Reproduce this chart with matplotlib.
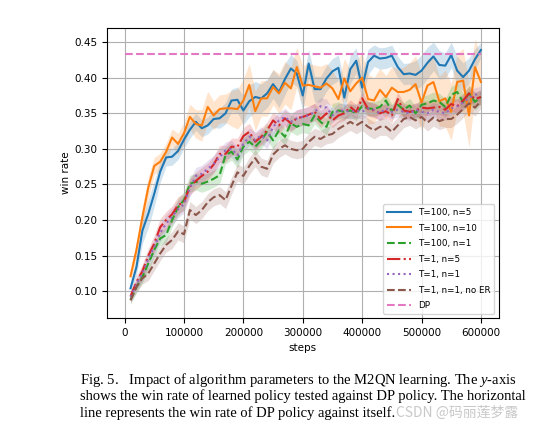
import numpy as np
import matplotlib
matplotlib.use('Agg')
import matplotlib.pyplot as plt
from matplotlib.ticker import FormatStrFormatter

# --------------------------------------------------------------------------------------
# Data

steps = np.arange(10000, 600001, 10000)

t100_n5 = [0.104, 0.134, 0.185, 0.209, 0.237, 0.268, 0.288, 0.289, 0.297, 0.313,
           0.327, 0.338, 0.329, 0.333, 0.342, 0.343, 0.350, 0.368, 0.369, 0.354,
           0.367, 0.373, 0.371, 0.378, 0.391, 0.380, 0.398, 0.413, 0.406, 0.375,
           0.420, 0.384, 0.384, 0.399, 0.409, 0.414, 0.372, 0.412, 0.424, 0.386,
           0.422, 0.431, 0.427, 0.428, 0.431, 0.415, 0.405, 0.406, 0.404, 0.410,
           0.421, 0.430, 0.418, 0.417, 0.432, 0.410, 0.401, 0.410, 0.426, 0.439]
t100_n5_sd = [0.006, 0.012, 0.018, 0.020, 0.018, 0.015, 0.012, 0.012, 0.012, 0.012,
              0.012, 0.012, 0.012, 0.012, 0.012, 0.014, 0.015, 0.016, 0.018, 0.020,
              0.022, 0.022, 0.020, 0.020, 0.020, 0.022, 0.022, 0.020, 0.018, 0.022,
              0.020, 0.018, 0.018, 0.018, 0.018, 0.018, 0.020, 0.020, 0.018, 0.020,
              0.018, 0.015, 0.015, 0.015, 0.015, 0.015, 0.015, 0.015, 0.020, 0.022,
              0.022, 0.020, 0.020, 0.018, 0.018, 0.020, 0.020, 0.018, 0.015, 0.010]

t100_n10 = [0.121, 0.158, 0.204, 0.246, 0.276, 0.282, 0.296, 0.316, 0.307, 0.322,
            0.345, 0.335, 0.333, 0.359, 0.347, 0.356, 0.357, 0.357, 0.356, 0.368,
            0.390, 0.353, 0.371, 0.371, 0.387, 0.378, 0.393, 0.385, 0.415, 0.389,
            0.390, 0.388, 0.386, 0.392, 0.385, 0.370, 0.399, 0.381, 0.392, 0.400,
            0.370, 0.368, 0.383, 0.373, 0.386, 0.380, 0.380, 0.383, 0.391, 0.365,
            0.389, 0.394, 0.367, 0.371, 0.352, 0.394, 0.396, 0.347, 0.415, 0.394]
t100_n10_sd = [0.008, 0.012, 0.015, 0.015, 0.012, 0.012, 0.012, 0.012, 0.015, 0.015,
               0.018, 0.020, 0.022, 0.022, 0.020, 0.020, 0.020, 0.025, 0.028, 0.030,
               0.030, 0.028, 0.025, 0.025, 0.025, 0.028, 0.030, 0.030, 0.028, 0.028,
               0.030, 0.030, 0.030, 0.028, 0.025, 0.025, 0.028, 0.030, 0.032, 0.035,
               0.035, 0.032, 0.030, 0.030, 0.030, 0.032, 0.035, 0.038, 0.040, 0.040,
               0.038, 0.035, 0.035, 0.040, 0.040, 0.040, 0.045, 0.045, 0.040, 0.035]

t100_n1 = [0.088, 0.106, 0.120, 0.139, 0.158, 0.174, 0.179, 0.200, 0.218, 0.228,
           0.251, 0.254, 0.251, 0.254, 0.258, 0.263, 0.291, 0.296, 0.285, 0.303,
           0.310, 0.303, 0.312, 0.324, 0.312, 0.326, 0.317, 0.336, 0.331, 0.335,
           0.333, 0.347, 0.338, 0.331, 0.352, 0.354, 0.352, 0.354, 0.350, 0.360,
           0.357, 0.356, 0.359, 0.368, 0.353, 0.362, 0.355, 0.361, 0.350, 0.362,
           0.364, 0.368, 0.366, 0.359, 0.376, 0.380, 0.366, 0.378, 0.366, 0.373]
t100_n1_sd = [0.005, 0.008, 0.008, 0.010, 0.010, 0.010, 0.010, 0.010, 0.012, 0.012,
              0.012, 0.012, 0.012, 0.012, 0.012, 0.012, 0.012, 0.012, 0.012, 0.012,
              0.012, 0.012, 0.012, 0.012, 0.012, 0.012, 0.012, 0.012, 0.012, 0.012,
              0.012, 0.012, 0.012, 0.012, 0.012, 0.012, 0.010, 0.010, 0.010, 0.010,
              0.010, 0.010, 0.010, 0.010, 0.010, 0.010, 0.010, 0.010, 0.010, 0.012,
              0.012, 0.012, 0.012, 0.012, 0.012, 0.012, 0.012, 0.012, 0.012, 0.010]

t1_n5 = [0.093, 0.113, 0.128, 0.150, 0.167, 0.190, 0.200, 0.208, 0.221, 0.225,
         0.247, 0.255, 0.262, 0.268, 0.278, 0.293, 0.293, 0.303, 0.303, 0.318,
         0.324, 0.310, 0.317, 0.326, 0.340, 0.333, 0.343, 0.336, 0.343, 0.345,
         0.348, 0.352, 0.342, 0.350, 0.340, 0.347, 0.350, 0.359, 0.352, 0.371,
         0.356, 0.354, 0.350, 0.353, 0.347, 0.370, 0.354, 0.352, 0.354, 0.358,
         0.357, 0.358, 0.359, 0.355, 0.363, 0.360, 0.368, 0.378, 0.370, 0.373]
t1_n5_sd = [0.005, 0.008, 0.010, 0.010, 0.012, 0.012, 0.012, 0.012, 0.012, 0.012,
            0.012, 0.012, 0.012, 0.012, 0.012, 0.012, 0.012, 0.012, 0.012, 0.012,
            0.012, 0.012, 0.012, 0.012, 0.012, 0.012, 0.012, 0.012, 0.012, 0.012,
            0.012, 0.012, 0.012, 0.012, 0.010, 0.010, 0.010, 0.010, 0.010, 0.010,
            0.010, 0.010, 0.010, 0.010, 0.010, 0.010, 0.010, 0.010, 0.010, 0.010,
            0.010, 0.010, 0.010, 0.010, 0.010, 0.010, 0.010, 0.010, 0.010, 0.010]

t1_n1 = [0.092, 0.110, 0.125, 0.145, 0.162, 0.182, 0.195, 0.205, 0.215, 0.222,
         0.245, 0.262, 0.265, 0.272, 0.279, 0.288, 0.298, 0.300, 0.291, 0.307,
         0.317, 0.312, 0.319, 0.312, 0.331, 0.340, 0.345, 0.338, 0.343, 0.345,
         0.347, 0.352, 0.360, 0.358, 0.347, 0.354, 0.354, 0.352, 0.354, 0.352,
         0.357, 0.355, 0.350, 0.357, 0.352, 0.355, 0.352, 0.350, 0.355, 0.352,
         0.350, 0.355, 0.352, 0.350, 0.357, 0.360, 0.365, 0.372, 0.376, 0.378]
t1_n1_sd = [0.005, 0.008, 0.010, 0.010, 0.012, 0.012, 0.012, 0.012, 0.012, 0.012,
            0.012, 0.012, 0.012, 0.012, 0.012, 0.012, 0.012, 0.012, 0.012, 0.012,
            0.012, 0.012, 0.012, 0.012, 0.012, 0.012, 0.012, 0.012, 0.012, 0.012,
            0.012, 0.012, 0.012, 0.012, 0.010, 0.010, 0.010, 0.010, 0.010, 0.010,
            0.010, 0.010, 0.010, 0.010, 0.010, 0.010, 0.010, 0.010, 0.010, 0.010,
            0.010, 0.010, 0.010, 0.010, 0.010, 0.010, 0.010, 0.010, 0.010, 0.010]

t1_n1_noer = [0.087, 0.106, 0.118, 0.125, 0.139, 0.153, 0.165, 0.172, 0.184, 0.180,
              0.214, 0.207, 0.214, 0.225, 0.232, 0.235, 0.228, 0.248, 0.267, 0.262,
              0.276, 0.287, 0.275, 0.272, 0.292, 0.300, 0.305, 0.300, 0.298, 0.300,
              0.310, 0.317, 0.314, 0.319, 0.321, 0.328, 0.333, 0.338, 0.333, 0.338,
              0.331, 0.326, 0.331, 0.331, 0.324, 0.333, 0.342, 0.345, 0.340, 0.345,
              0.337, 0.344, 0.339, 0.342, 0.342, 0.348, 0.356, 0.364, 0.358, 0.367]
t1_n1_noer_sd = [0.005, 0.008, 0.008, 0.010, 0.010, 0.010, 0.010, 0.012, 0.012, 0.012,
                 0.012, 0.012, 0.012, 0.012, 0.012, 0.012, 0.012, 0.012, 0.012, 0.012,
                 0.012, 0.012, 0.012, 0.012, 0.012, 0.012, 0.012, 0.012, 0.012, 0.012,
                 0.012, 0.012, 0.012, 0.012, 0.012, 0.012, 0.012, 0.012, 0.012, 0.012,
                 0.012, 0.012, 0.012, 0.012, 0.012, 0.012, 0.012, 0.012, 0.012, 0.012,
                 0.012, 0.012, 0.012, 0.012, 0.012, 0.012, 0.012, 0.012, 0.012, 0.010]

dp_steps = [0, 600000]
dp_rate = [0.433, 0.433]

labels = ['T=100, n=5', 'T=100, n=10', 'T=100, n=1', 'T=1, n=5',
          'T=1, n=1', 'T=1, n=1, no ER', 'DP']

caption = ['Fig. 5.   Impact of algorithm parameters to the M2QN learning. The $y$-axis',
           'shows the win rate of learned policy tested against DP policy. The horizontal',
           'line represents the win rate of DP policy against itself.']

# --------------------------------------------------------------------------------------
# Create chart

plt.rcParams['mathtext.fontset'] = 'custom'
plt.rcParams['mathtext.it'] = 'Liberation Serif:italic'
plt.rcParams['mathtext.rm'] = 'Liberation Serif'

fig = plt.figure(figsize=(5.56, 4.30), dpi=100)
ax = fig.add_axes([0.192, 0.260, 0.705, 0.675])

series = [(t100_n5, t100_n5_sd, '#1f77b4', '-'),
          (t100_n10, t100_n10_sd, '#ff7f0e', '-'),
          (t100_n1, t100_n1_sd, '#2ca02c', '--'),
          (t1_n5, t1_n5_sd, '#d62728', '-.'),
          (t1_n1, t1_n1_sd, '#9467bd', ':'),
          (t1_n1_noer, t1_n1_noer_sd, '#8c564b', '--')]

for (y, sd, col, ls), lab in zip(series, labels):
    y = np.array(y)
    sd = np.array(sd)
    ax.fill_between(steps, y - sd, y + sd, color=col, alpha=0.2, linewidth=0)
    ax.plot(steps, y, color=col, linestyle=ls, linewidth=1.5, label=lab)

ax.plot(dp_steps, dp_rate, color='#e377c2', linestyle='--', linewidth=1.5, label=labels[-1])

ax.grid(True, color='#b0b0b0', linewidth=0.8)
ax.set_xticks(np.arange(0, 600001, 100000))
ax.set_xlim(-30000, 630000)
ax.set_yticks(np.arange(0.10, 0.451, 0.05))
ax.yaxis.set_major_formatter(FormatStrFormatter('%.2f'))
ax.set_ylim(0.062, 0.470)
ax.tick_params(labelsize=7.5)
ax.set_xlabel('steps', fontsize=7.5)
ax.set_ylabel('win rate', fontsize=7.5, labelpad=2)

ax.legend(loc='lower right', fontsize=6.3, framealpha=0.8, labelspacing=0.75,
          handlelength=2.8, handletextpad=0.8, borderaxespad=0.5)

# caption
for i, line in enumerate(caption):
    fig.text(0.143, 0.116 - i * 0.038, line, fontsize=10.5, family='Liberation Serif',
             va='center', ha='left')

fig.text(0.712, 0.041, 'CSDN @码丽莲梦露', fontsize=10, color='#c8c8c8',
         family=['Noto Sans CJK SC', 'DejaVu Sans'], va='center', ha='left')

plt.savefig('out.png', dpi=100)
